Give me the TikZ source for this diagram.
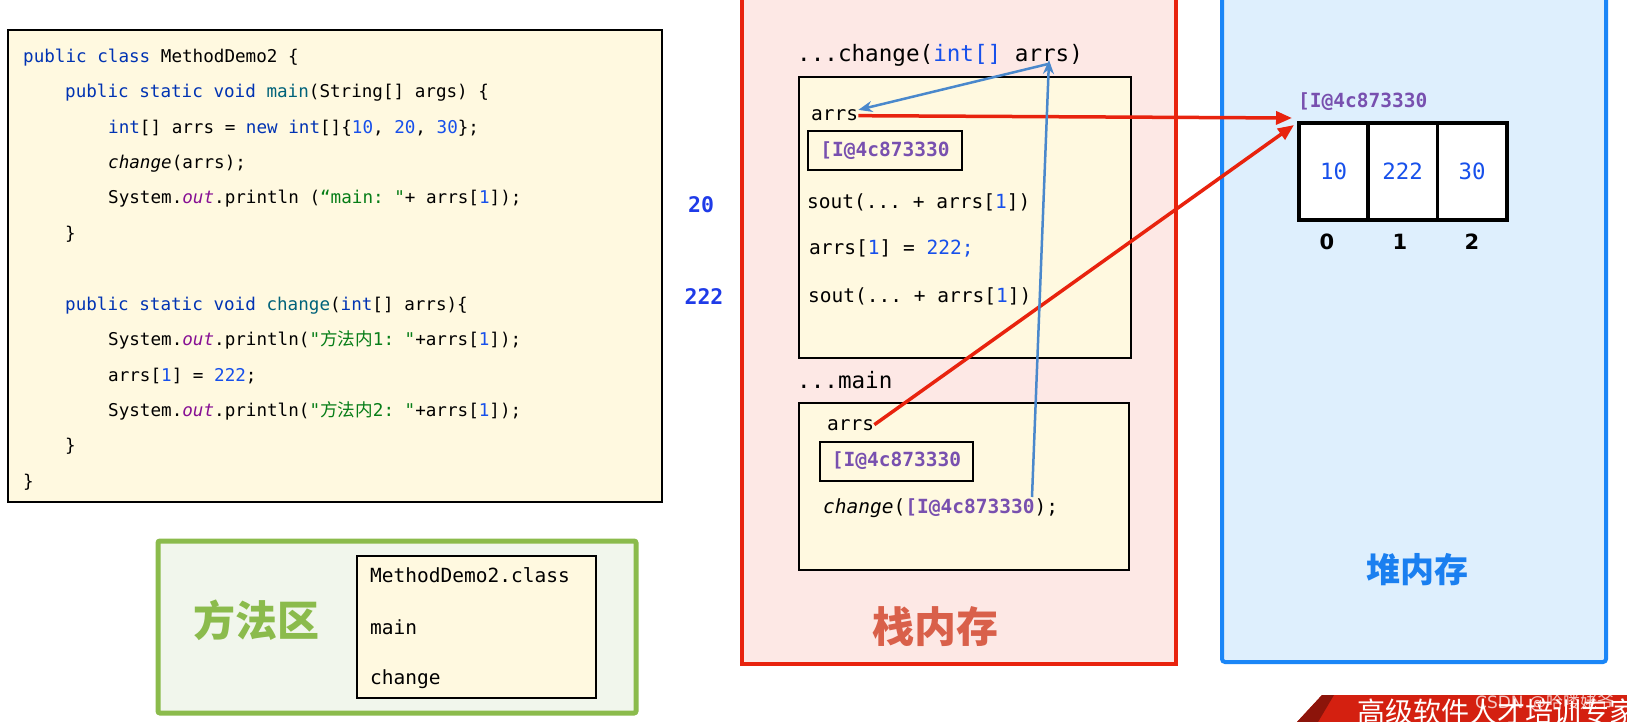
\documentclass[tikz,border=0pt]{standalone}
\usepackage{fontspec}
\setmainfont{DejaVu Sans}
\setmonofont{DejaVu Sans Mono}
\newfontfamily\cjk{Noto Sans CJK SC}
\usetikzlibrary{arrows.meta}
\definecolor{kw}{RGB}{0,51,179}
\definecolor{mn}{RGB}{0,98,122}
\definecolor{num}{RGB}{23,80,235}
\definecolor{outc}{RGB}{135,16,148}
\definecolor{strc}{RGB}{6,125,23}
\definecolor{addr}{RGB}{120,80,175}
\definecolor{cream}{RGB}{255,249,224}
\definecolor{stackfill}{RGB}{253,232,229}
\definecolor{stackline}{RGB}{232,35,14}
\definecolor{heapfill}{RGB}{222,239,253}
\definecolor{heapline}{RGB}{27,134,247}
\definecolor{greenline}{RGB}{139,187,76}
\definecolor{greenfill}{RGB}{241,246,236}
\definecolor{stacklabel}{RGB}{217,96,74}
\definecolor{heaplabel}{RGB}{26,127,240}
\definecolor{arrowblue}{RGB}{74,136,204}
\definecolor{numleft}{RGB}{31,59,232}
\definecolor{bannerred}{RGB}{212,32,16}
\definecolor{bannerdark}{RGB}{140,20,10}
\newcommand\kwd[1]{\textcolor{kw}{#1}}
\newcommand\mnm[1]{\textcolor{mn}{#1}}
\newcommand\nmb[1]{\textcolor{num}{#1}}
\newcommand\outk[1]{\textcolor{outc}{\itshape #1}}
\newcommand\strk[1]{\textcolor{strc}{#1}}
\newcommand\addrtxt{\textcolor{addr}{\bfseries [I@4c873330}}
\tikzset{
  code/.style={anchor=base west, inner sep=0, font=\ttfamily\fontsize{17.6}{20}\selectfont},
  st/.style={anchor=base west, inner sep=0, font=\ttfamily\fontsize{19.5}{22}\selectfont},
  hdr/.style={anchor=base west, inner sep=0, font=\ttfamily\fontsize{22.6}{26}\selectfont},
  addrbox/.style={draw, line width=2, fill=cream, minimum height=39, inner sep=0, font=\ttfamily\fontsize{19.5}{22}\selectfont},
  cell/.style={draw, line width=3.5, fill=white, minimum width=69.5, minimum height=97, inner sep=0, text=num, font=\ttfamily\fontsize{22.4}{24}\selectfont},
  idx/.style={inner sep=0, font=\bfseries\fontsize{21}{24}\selectfont},
  redarrow/.style={draw=stackline, line width=3.5, -{Triangle[length=16,width=13]}},
  bluearrow/.style={draw=arrowblue, line width=2.5, -{Stealth[length=14,width=11]}},
  bigcjk/.style={inner sep=0, font=\cjk\bfseries\fontsize{42}{44}\selectfont},
  leftnum/.style={inner sep=0, text=numleft, font=\ttfamily\bfseries\fontsize{21.5}{24}\selectfont}
}
\begin{document}
\begin{tikzpicture}[x=1pt,y=-1pt]
\useasboundingbox (0,0) rectangle (1627,722);
\clip (0,0) rectangle (1627,722);
\fill[white] (0,0) rectangle (1627,722);

% ---------- code box ----------
\draw[line width=2.5, fill=cream] (8,30) rectangle (662,502);
\node[code] (l1) at (23,63) {\kwd{public class} MethodDemo2 \{};
\node[code] (l2) at (65,98) {\kwd{public static void} \mnm{main}(String[] args) \{};
\node[code] (l3) at (108,134) {\kwd{int}[] arrs = \kwd{new} \kwd{int}[]\{\nmb{10}, \nmb{20}, \nmb{30}\};};
\node[code] (l4) at (108,169) {\textit{change}(arrs);};
\node[code] (l5) at (108,204) {System.\outk{out}.println (\strk{“main: "}+ arrs[\nmb{1}]);};
\node[code] (l6) at (65,239) {\}};
\node[code] (l7) at (65,310) {\kwd{public static void} \mnm{change}(\kwd{int}[] arrs)\{};
\node[code] (l8) at (108,345) {System.\outk{out}.println(\strk{"{\cjk 方法内}1: "}+arrs[\nmb{1}]);};
\node[code] (l9) at (108,381) {arrs[\nmb{1}] = \nmb{222};};
\node[code] (l10) at (108,416) {System.\outk{out}.println(\strk{"{\cjk 方法内}2: "}+arrs[\nmb{1}]);};
\node[code] (l11) at (65,451) {\}};
\node[code] (l12) at (23,487) {\}};

% ---------- method area ----------
\draw[line width=5, draw=greenline, fill=greenfill, rounded corners=2] (158,541) rectangle (636,713);
\node[bigcjk, text=greenline] (ma) at (256,620) {方法区};
\draw[line width=2, fill=cream] (357,556) rectangle (596,698);
\node[st] (mc1) at (370,582) {MethodDemo2.class};
\node[st] (mc2) at (370,634) {main};
\node[st] (mc3) at (370,684) {change};

% ---------- left numbers ----------
\node[leftnum] (n20) at (701,205) {20};
\node[leftnum] (n222) at (704,297) {222};

% ---------- stack ----------
\draw[line width=4, draw=stackline, fill=stackfill] (742,-10) rectangle (1176,664);
\node[hdr] (hdrC) at (797,62) {...change(\textcolor{num}{int[]} arrs)};
\draw[line width=2, fill=cream] (799,77) rectangle (1131,358);
\node[st] (arrsC) at (811,121) {arrs};
\node[addrbox, minimum width=154] (addrC) at (885,150.5) {\addrtxt};
\node[st] (s1) at (807,208) {sout(... + arrs[\nmb{1}])};
\node[st] (s2) at (809,254) {arrs[\nmb{1}] = \nmb{222;}};
\node[st] (s3) at (808,302) {sout(... + arrs[\nmb{1}])};

\node[hdr] (hdrM) at (797,388) {...main};
\draw[line width=2, fill=cream] (799,403) rectangle (1129,570);
\node[st] (arrsM) at (827,430) {arrs};
\node[addrbox, minimum width=153] (addrM) at (896.5,461) {\addrtxt};
\node[st] (callM) at (823,513) {\textit{change}(\addrtxt);};
\node[bigcjk, text=stacklabel] (stk) at (935,627) {栈内存};

% ---------- heap ----------
\draw[line width=4, draw=heapline, fill=heapfill, rounded corners=3] (1222,-10) rectangle (1606,662);
\node[st, anchor=west] (haddr) at (1298,102) {\addrtxt};
\node[cell] (c0) at (1333.5,171.5) {10};
\node[cell] (c1) at (1402.5,171.5) {222};
\node[cell] (c2) at (1472,171.5) {30};
\node[idx] (i0) at (1327,242) {0};
\node[idx] (i1) at (1400,242) {1};
\node[idx] (i2) at (1472,242) {2};
\node[inner sep=0, text=heaplabel, font=\cjk\bfseries\fontsize{34}{36}\selectfont] (hp) at (1417,570) {堆内存};

% ---------- banner ----------
\fill[bannerred] (1297,722) -- (1322,695) -- (1627,695) -- (1627,722) -- cycle;
\fill[bannerdark] (1297,722) -- (1322,695) -- (1334,695) -- (1318,722) -- cycle;
\node[anchor=north west, inner sep=0, text=white, font=\cjk\fontsize{28}{30}\selectfont] (bt) at (1357,699) {高级软件人才培训专家};
\node[anchor=west, inner sep=0, text=white, opacity=0.75, font=\fontsize{17}{18}\selectfont] (wm) at (1475,703) {CSDN @{\cjk 哈喽姥爷}};

% ---------- connectors ----------
\coordinate (tip1) at (1292,118);
\coordinate (tip2) at (1294,125);
\coordinate (callEnd) at (1032,497);
\coordinate (blueTop) at (1049,60);
\coordinate (blueMid) at (1048,64);
\draw[redarrow] (arrsC.east) -- (tip1);
\draw[redarrow] (arrsM.east) -- (tip2);
\draw[bluearrow] (callEnd) -- (blueTop);
\draw[bluearrow] (blueMid) -- (arrsC.north east);
\end{tikzpicture}
\end{document}
